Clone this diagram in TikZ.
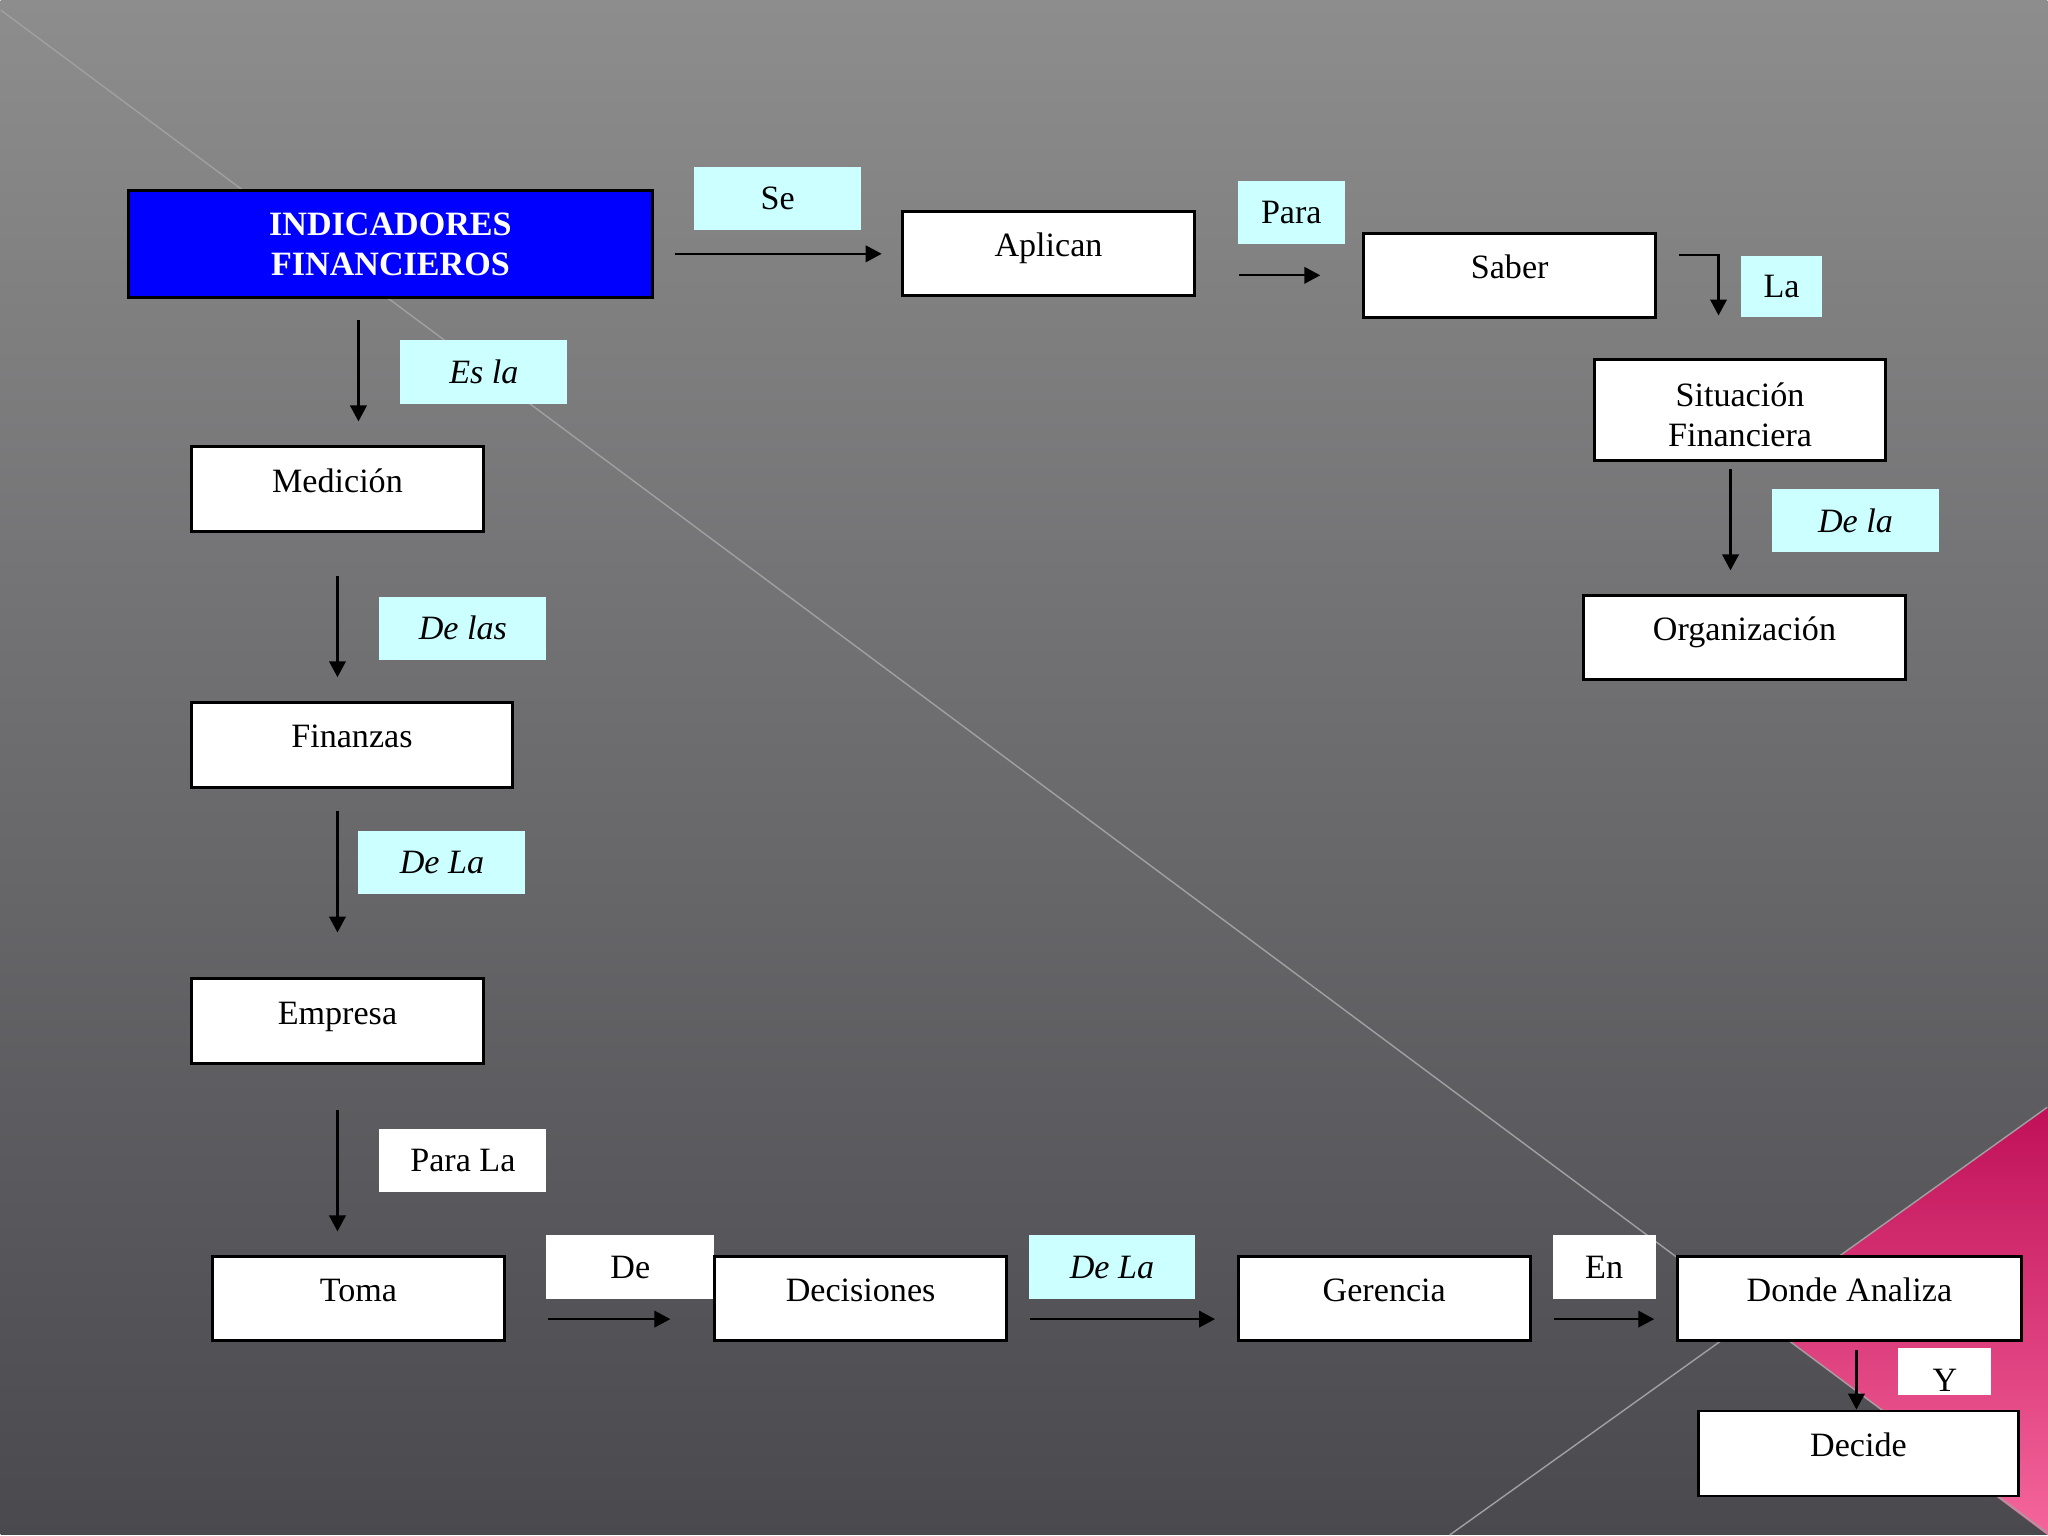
\documentclass[tikz,border=0pt]{standalone}
\usepackage{fontspec}
\setmainfont{Liberation Serif}
\usepackage{tikz}
\usetikzlibrary{arrows.meta}
\definecolor{bgTop}{RGB}{141,141,141}
\definecolor{bgBot}{RGB}{74,73,78}
\definecolor{pkTop}{RGB}{192,16,88}
\definecolor{pkBot}{RGB}{245,102,156}
\definecolor{tagCyan}{HTML}{CCFFFF}
\definecolor{diagGray}{RGB}{160,160,160}
\definecolor{indBlue}{HTML}{0000FF}
\tikzset{
  box/.style={draw=black,line width=1pt,fill=white,inner sep=0pt,
    minimum width=102.7pt,minimum height=29.5pt,
    font=\fontsize{12}{14.2}\selectfont},
  upbox/.style={box,text height=8pt,text depth=6pt},
  tag/.style={fill=tagCyan,inner sep=0pt,minimum width=58.7pt,
    minimum height=22.2pt,font=\fontsize{12}{14.2}\selectfont},
  itag/.style={tag,font=\fontsize{12}{14.2}\selectfont\itshape},
  wtag/.style={tag,fill=white},
  arr/.style={line width=0.8pt,-{Triangle[length=5.6pt,width=5.8pt]}},
}

\begin{document}
\begin{tikzpicture}[x=0.3516pt,y=0.3516pt]
  \shade[top color=bgTop,bottom color=bgBot] (0,0) rectangle (2048,-1536);
  \shade[top color=pkTop,bottom color=pkBot]
    (2048,-1108) -- (1756,-1317) -- (2048,-1536) -- cycle;
  \draw[diagGray,line width=0.5pt] (0,-10) -- (2048,-1534);
  \draw[diagGray,line width=0.5pt] (1450,-1536) -- (2048,-1108);
  \useasboundingbox (0,0) rectangle (2048,-1536);

  \node[tag] (se) at (777.5,-199) {Se};
  \node[tag,minimum width=37.6pt] (para) at (1291.5,-212.5) {Para};
  \node[tag,minimum width=28.8pt,minimum height=21.4pt] (la) at (1782,-286.5) {La};
  \node[itag,minimum width=59pt] (dela) at (1856,-521) {De la};
  \node[itag,minimum height=22.5pt] (esla) at (483.5,-372) {Es la};
  \node[itag] (delas) at (462.5,-628.5) {De las};
  \node[itag] (delaEmp) at (441.5,-863) {De La};
  \node[wtag] (parala) at (462.5,-1161) {Para La};
  \node[wtag,minimum width=59pt,minimum height=22.5pt] (de) at (630,-1268) {De};
  \node[itag,minimum height=22.5pt] (delaGer) at (1112,-1268) {De La};
  \node[wtag,minimum width=36.2pt,minimum height=22.5pt] (en) at (1604.5,-1268) {En};
  \node[wtag,minimum width=32.7pt,minimum height=16.5pt,text height=14.3pt,
    text depth=0pt] (y) at (1945.5,-1372.5) {Y};

  \node[box,fill=indBlue,text=white,align=center,minimum width=184.2pt,
    minimum height=37.6pt,font=\fontsize{12}{14.2}\selectfont\bfseries]
    (ind) at (390,-244.5) {INDICADORES\\FINANCIEROS};
  \node[upbox,minimum width=103pt] (apl) at (1048.5,-254) {Aplican};
  \node[upbox] (sab) at (1510,-275.5) {Saber};
  \node[box,align=center,minimum width=102.3pt,minimum height=35.5pt,
    text height=25.7pt] (sit) at (1740.5,-410.5) {Situación\\Financiera};
  \node[upbox,minimum width=113.2pt] (org) at (1745,-638) {Organización};
  \node[upbox,minimum height=29.9pt] (med) at (337,-489.5) {Medición};
  \node[upbox,minimum width=112.9pt,minimum height=29.9pt] (fin) at (351.5,-745.5) {Finanzas};
  \node[upbox,minimum height=29.9pt] (emp) at (337,-1022) {Empresa};
  \node[upbox] (tom) at (358,-1299.5) {Toma};
  \node[upbox] (dcs) at (860.5,-1299.5) {Decisiones};
  \node[upbox] (ger) at (1384.5,-1299.5) {Gerencia};
  \node[upbox,minimum width=121pt] (don) at (1850,-1299.5) {Donde Analiza};
  \node[upbox,minimum width=112.5pt,minimum height=29.9pt] (dcd) at (1859,-1454.5) {Decide};

  \draw[arr,shorten <=7.4pt,shorten >=6.7pt] (ind.east |- apl.west) -- (apl.west);
  \draw[arr,shorten <=15.1pt,shorten >=14.8pt] (apl.east |- sab.west) -- (sab.west);
  \draw[arr,shorten >=15.1pt] ([shift={(22,20)}]sab.east) -| ([shift={(-21.5,0)}]sit.north);
  \draw[arr,shorten <=2.5pt,shorten >=8.4pt] ([shift={(-9.5,0)}]sit.south)
    -- ([shift={(-9.5,0)}]sit.south |- org.north);
  \draw[arr,shorten <=7.4pt,shorten >=8.4pt] ([shift={(-32,0)}]ind.south)
    -- ([shift={(-32,0)}]ind.south |- med.north);
  \draw[arr,shorten <=15.1pt,shorten >=8.4pt] (med.south) -- (med.south |- fin.north);
  \draw[arr,shorten <=7.7pt,shorten >=15.8pt] (emp.north |- fin.south) -- (emp.north);
  \draw[arr,shorten <=15.8pt,shorten >=8.4pt] (emp.south) -- (emp.south |- tom.north);
  \draw[arr,shorten <=14.8pt,shorten >=15.1pt] ([shift={(0,-20.5)}]tom.east)
    -- ([shift={(0,-20.5)}]dcs.west);
  \draw[arr,shorten <=7.7pt,shorten >=7.7pt] ([shift={(0,-20.5)}]dcs.east)
    -- ([shift={(0,-20.5)}]ger.west);
  \draw[arr,shorten <=7.7pt,shorten >=7.7pt] ([shift={(0,-20.5)}]ger.east)
    -- ([shift={(0,-20.5)}]don.west);
  \draw[arr,shorten <=2.8pt] ([shift={(7,0)}]don.south) -- ([shift={(7,0)}]don.south |- dcd.north);
\end{tikzpicture}
\end{document}
